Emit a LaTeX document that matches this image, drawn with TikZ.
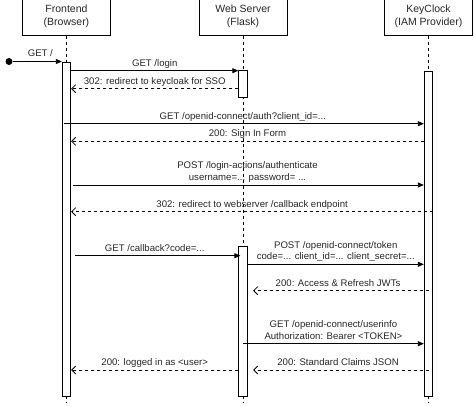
\documentclass[tikz,border=0pt]{standalone}
\usepackage{fontspec}
\setmainfont{Liberation Sans}
\usetikzlibrary{positioning, arrows.meta}

\begin{document}
\begin{tikzpicture}[x=1pt, y=-1pt, line width=0.8pt,
  head/.style={draw, minimum width=88pt, minimum height=38pt, inner sep=0pt, align=center, text=black!85, font=\fontsize{10.5}{13}\selectfont},
  actbar/.style={draw, fill=white, minimum width=8.5pt, inner sep=0pt},
  life/.style={dash pattern=on 3pt off 3pt},
  call/.style={-{Triangle[length=6pt,width=5pt]}},
  reply/.style={dash pattern=on 3pt off 3pt, -{Straight Barb[length=4pt,width=8pt]}},
  lbl/.style={midway, anchor=base, yshift=4.6pt, inner sep=0pt, align=center, text=black!85, font=\fontsize{9.6}{11.6}\selectfont}]
\useasboundingbox (0,0) rectangle (474,406);

% Participants (top edge runs off the page)
\node[head] (fe) at (66.5,16.5) {Frontend\\(Browser)};
\node[head] (ws) at (243,16.5) {Web Server\\(Flask)};
\node[head] (kc) at (428.5,16.5) {KeyClock\\(IAM Provider)};

% Lifelines (behind the bars)
\draw[life] (fe.south) -- (fe.south |- 0,403);
\draw[life] (ws.south) -- (ws.south |- 0,403);
\draw[life] (kc.south) -- (kc.south |- 0,403);

% Activation bars
\node[actbar, minimum height=334pt] (feBar) at (66.5,229) {};
\node[actbar, minimum height=27pt] (wsBarA) at (243,83.5) {};
\node[actbar, minimum height=150pt] (wsBarB) at (243,321) {};
\node[actbar, minimum height=325pt] (kcBar) at (428.5,233.5) {};

% Entry point
\node[circle, fill, inner sep=0pt, minimum size=7pt] (start) at (9,61.5) {};
\draw[call] (start) -- (feBar.west |- start) node[lbl, xshift=3pt] {GET /};

% Login redirect
\draw[call] (feBar.east |- 0,70.7) -- (wsBarA.west |- 0,70.7) node[lbl] {GET /login};
\draw[reply] (wsBarA.west |- 0,88.7) -- (feBar.east |- 0,88.7) node[lbl] {302: redirect to keycloak for SSO};

% Sign in at KeyClock
\draw[call, shorten <=2pt] (feBar.west |- 0,123.7) -- (kcBar.west |- 0,123.7) node[lbl] {GET /openid-connect/auth?client\_id=...};
\draw[reply] (kcBar.west |- 0,141.3) -- (feBar.east |- 0,141.3) node[lbl] {200: Sign In Form};
\draw[call, shorten <=2pt] (feBar.east |- 0,185) -- (kcBar.west |- 0,185) node[lbl] {POST /login-actions/authenticate\\username=... password= ...};
\draw[reply] (kcBar.east |- 0,211.7) -- (feBar.east |- 0,211.7) node[lbl] {302: redirect to webserver /callback endpoint};

% Callback and token exchange
\draw[call, shorten <=4pt, shorten >=-2pt] (feBar.east |- 0,255.7) -- (wsBarB.west |- 0,255.7) node[lbl] {GET /callback?code=...};
\draw[call] (wsBarB.east |- 0,264.3) -- (kcBar.west |- 0,264.3) node[lbl] {POST /openid-connect/token\\code=... client\_id=... client\_secret=...};
\draw[reply, shorten >=5.5pt] (kcBar.center |- 0,290.7) -- (wsBarB.east |- 0,290.7) node[lbl] {200: Access \& Refresh JWTs};
\draw[call] (wsBarB.center |- 0,343.7) -- (kcBar.west |- 0,343.7) node[lbl] {GET /openid-connect/userinfo\\Authorization: Bearer <TOKEN>};
\draw[reply, shorten >=5.5pt] (kcBar.center |- 0,370) -- (wsBarB.east |- 0,370) node[lbl] {200: Standard Claims JSON};
\draw[reply] (wsBarB.west |- 0,370) -- (feBar.east |- 0,370) node[lbl] {200: logged in as <user>};

\end{tikzpicture}
\end{document}
